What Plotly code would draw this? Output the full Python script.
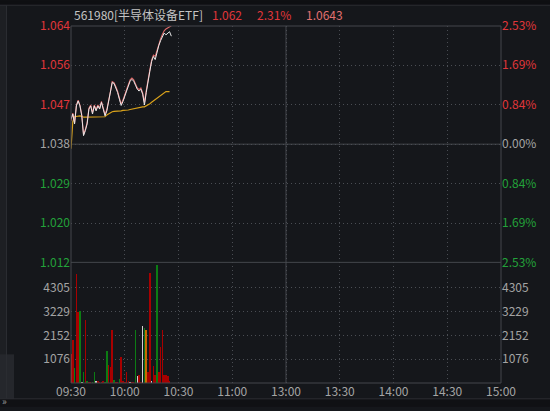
import plotly.graph_objects as go

# ---------------- data ----------------
prev_close = 1.038
header_code = "561980[半导体设备ETF]"
header_price = "1.062"
header_pct = "2.31%"
header_iopv = "1.0643"

time_ticks = [0, 30, 60, 90, 120, 150, 180, 210, 240]
time_labels = ["09:30", "10:00", "10:30", "11:00", "13:00", "13:30", "14:00", "14:30", "15:00"]

pct_steps = [-2.53, -1.69, -0.84, 0.0, 0.84, 1.69, 2.53]
price_labels = ["1.012", "1.020", "1.029", "1.038", "1.047", "1.056", "1.064"]
pct_labels = ["2.53%", "1.69%", "0.84%", "0.00%", "0.84%", "1.69%", "2.53%"]

vol_ticks = [1076, 2152, 3229, 4305]
vol_labels = ["1076", "2152", "3229", "4305"]
vol_max = 5460

minutes = list(range(57))
price = [1.0436, 1.0447, 1.0425, 1.0465, 1.0476, 1.0465, 1.0443, 1.0399, 1.0410, 1.0425,
         1.0458, 1.0465, 1.0447, 1.0465, 1.0454, 1.0465, 1.0458, 1.0473, 1.0458, 1.0443,
         1.0454, 1.0473, 1.0495, 1.0517, 1.0515, 1.0506, 1.0495, 1.0480, 1.0466, 1.0475,
         1.0489, 1.0498, 1.0509, 1.0520, 1.0524, 1.0520, 1.0511, 1.0502, 1.0498, 1.0502,
         1.0491, 1.0467, 1.0495, 1.0524, 1.0542, 1.0564, 1.0575, 1.0568, 1.0586, 1.0599,
         1.0610, 1.0619, 1.0627, 1.0623, 1.0627, 1.0630, 1.0620]
iopv = [1.0432, 1.0449, 1.0428, 1.0467, 1.0478, 1.0467, 1.0446, 1.0402, 1.0413, 1.0428,
        1.0460, 1.0467, 1.0450, 1.0467, 1.0457, 1.0467, 1.0460, 1.0475, 1.0460, 1.0446,
        1.0457, 1.0475, 1.0497, 1.0519, 1.0517, 1.0508, 1.0498, 1.0483, 1.0469, 1.0478,
        1.0492, 1.0501, 1.0512, 1.0523, 1.0527, 1.0523, 1.0514, 1.0505, 1.0501, 1.0505,
        1.0494, 1.0473, 1.0499, 1.0527, 1.0545, 1.0567, 1.0578, 1.0575, 1.0590, 1.0603,
        1.0614, 1.0624, 1.0632, 1.0636, 1.0639, 1.0641, 1.0643]
avg_price = [1.0370, 1.0430, 1.0441, 1.0442, 1.0443, 1.0443, 1.0442, 1.0440, 1.0440, 1.0440,
             1.0441, 1.0441, 1.0441, 1.0441, 1.0441, 1.0441, 1.0441, 1.0441, 1.0441, 1.0441,
             1.0445, 1.0448, 1.0450, 1.0452, 1.0453, 1.0453, 1.0454, 1.0454, 1.0454, 1.0455,
             1.0455, 1.0456, 1.0456, 1.0457, 1.0458, 1.0458, 1.0459, 1.0460, 1.0461, 1.0462,
             1.0463, 1.0463, 1.0465, 1.0467, 1.0470, 1.0473, 1.0476, 1.0478, 1.0482, 1.0486,
             1.0489, 1.0492, 1.0495, 1.0497, 1.0497, 1.0497]
volume = [1300, 1960, 660, 4920, 3200, 3270, 60, 490, 2860, 80,
          30, 40, 60, 510, 70, 80, 60, 40, 70, 40,
          1450, 800, 730, 2400, 130, 50, 60, 200, 1180, 100,
          40, 510, 80, 60, 40, 50, 2380, 310, 380, 60,
          2560, 2500, 2380, 510, 4990, 80, 760, 360, 5340, 510,
          1630, 2400, 360, 340, 320, 100]
vol_kind = ["b", "r", "g", "r", "r", "g", "w", "g", "r", "g",
            "r", "r", "g", "g", "w", "r", "r", "r", "r", "g",
            "g", "r", "r", "r", "g", "r", "r", "g", "r", "r",
            "r", "r", "r", "w", "r", "r", "g", "w", "r", "r",
            "w", "g", "o", "r", "r", "w", "r", "r", "g", "r",
            "r", "r", "r", "r", "r", "r"]

# ---------------- styles ----------------
BG = "#15171b"
RED = "#e0363a"
GREEN = "#23a23a"
GRAY = "#a4a4a4"
LINE = "#44474c"
DOT = "#4a4d53"
kind_color = {"r": "#a80000", "b": "#e81010", "g": "#0c7c14", "w": "#d0d0d0", "o": "#c86a00"}
FONT = "Noto Sans CJK SC"

W, H = 550, 411
L, R, T, B = 71, 49, 26, 24
PW, PH = W - L - R, H - T - B
split = 122 / PH  # volume panel fraction


def px(xp):
    return (xp - L) / PW


def py(yp):
    return (H - B - yp) / PH


lo = prev_close * (1 - 2.53 / 100)
hi = prev_close * (1 + 2.53 / 100)
price_ticks = [prev_close * (1 + s / 100) for s in pct_steps]


def colored(lbls, steps):
    out = []
    for t, s in zip(lbls, steps):
        c = RED if s > 0 else (GREEN if s < 0 else GRAY)
        out.append(f'<span style="color:{c}">{t}</span>')
    return out


fig = go.Figure()

fig.add_trace(go.Bar(x=minutes[:len(volume)], y=volume, xaxis="x2", yaxis="y3",
                     marker=dict(color=[kind_color[k] for k in vol_kind], line=dict(width=0)),
                     width=0.85, showlegend=False, hoverinfo="skip"))
fig.add_trace(go.Scatter(x=minutes[:len(avg_price)], y=avg_price, mode="lines",
                         line=dict(color="#d9a21b", width=1.2), showlegend=False, xaxis="x", yaxis="y"))
fig.add_trace(go.Scatter(x=minutes, y=iopv, mode="lines",
                         line=dict(color="#e06a6a", width=1.1), showlegend=False, xaxis="x", yaxis="y"))
fig.add_trace(go.Scatter(x=minutes, y=price, mode="lines",
                         line=dict(color="#e8e8e8", width=1.0), showlegend=False, xaxis="x", yaxis="y"))
fig.add_trace(go.Scatter(x=[None], y=[None], xaxis="x", yaxis="y2", showlegend=False))
fig.add_trace(go.Scatter(x=[None], y=[None], xaxis="x2", yaxis="y4", showlegend=False))

tickfont = dict(family=FONT, size=12, color=GRAY)
xgrid = dict(showgrid=True, gridcolor=DOT, griddash="1px,3px", gridwidth=1, zeroline=False,
             range=[0, 240], tickvals=time_ticks, showline=False, ticks="")

fig.update_layout(
    width=W, height=H, paper_bgcolor=BG, plot_bgcolor=BG,
    margin=dict(l=L, r=R, t=T, b=B), showlegend=False, bargap=0, hovermode=False,
    xaxis=dict(**xgrid, anchor="y", showticklabels=False, domain=[0, 1]),
    xaxis2=dict(**xgrid, anchor="y3", matches="x", showticklabels=True, ticktext=time_labels,
                tickfont=tickfont, domain=[0, 1]),
    yaxis=dict(domain=[split, 1], range=[lo - 1e-7, hi + 1e-7], tickvals=price_ticks,
               ticktext=colored(price_labels, pct_steps), tickfont=tickfont,
               showgrid=True, gridcolor=DOT, griddash="1px,3px", zeroline=False, ticks="",
               anchor="x"),
    yaxis2=dict(overlaying="y", side="right", range=[-2.53 - 1e-5, 2.53 + 1e-5], tickvals=pct_steps,
                ticktext=colored(pct_labels, pct_steps), tickfont=tickfont, showgrid=False,
                zeroline=False, ticks="", anchor="x"),
    yaxis3=dict(domain=[0, split], range=[0, vol_max], tickvals=vol_ticks, ticktext=vol_labels,
                tickfont=tickfont, showgrid=True, gridcolor=DOT, griddash="1px,3px",
                zeroline=False, ticks="", anchor="x2"),
    yaxis4=dict(overlaying="y3", side="right", range=[0, vol_max], tickvals=vol_ticks,
                ticktext=vol_labels, tickfont=tickfont, showgrid=False, zeroline=False,
                ticks="", anchor="x2"),
)

shapes = []
shapes.append(dict(type="rect", xref="paper", yref="paper", x0=0, x1=1, y0=0, y1=1,
                   line=dict(color=LINE, width=1), fillcolor="rgba(0,0,0,0)", layer="above"))
shapes.append(dict(type="line", xref="paper", yref="paper", x0=0, x1=1, y0=split, y1=split,
                   line=dict(color=LINE, width=1)))
shapes.append(dict(type="line", xref="paper", yref="y", x0=0, x1=1, y0=prev_close, y1=prev_close,
                   line=dict(color=LINE, width=1), layer="below"))
shapes.append(dict(type="line", xref="x", yref="paper", x0=120, x1=120, y0=0, y1=1,
                   line=dict(color=LINE, width=1), layer="below"))
shapes.append(dict(type="rect", xref="paper", yref="paper", x0=px(0), x1=px(W), y0=py(0), y1=py(5),
                   fillcolor="#0e0f12", line=dict(width=0), layer="below"))
shapes.append(dict(type="line", xref="paper", yref="paper", x0=px(0), x1=px(W), y0=py(5), y1=py(5),
                   line=dict(color="#2c2e33", width=1)))
shapes.append(dict(type="rect", xref="paper", yref="paper", x0=px(0), x1=px(W), y0=py(403), y1=py(H),
                   fillcolor="#101114", line=dict(width=0), layer="below"))
shapes.append(dict(type="line", xref="paper", yref="paper", x0=px(0), x1=px(W), y0=py(403), y1=py(403),
                   line=dict(color="#2c2e33", width=1)))
shapes.append(dict(type="rect", xref="paper", yref="paper", x0=px(0), x1=px(6), y0=py(5), y1=py(403),
                   fillcolor="#1d1f23", line=dict(width=0), layer="below"))
shapes.append(dict(type="line", xref="paper", yref="paper", x0=px(6.5), x1=px(6.5), y0=py(5), y1=py(403),
                   line=dict(color="#2a2c31", width=1)))
shapes.append(dict(type="rect", xref="paper", yref="paper", x0=px(0), x1=px(14), y0=py(358), y1=py(403),
                   fillcolor="#25272c", line=dict(width=0), layer="below"))
fig.update_layout(shapes=shapes)

hy = py(14)
ann = [
    dict(text=header_code, x=px(72), color="#c4c4c4"),
    dict(text=header_price, x=px(210), color=RED),
    dict(text=header_pct, x=px(255), color=RED),
    dict(text=header_iopv, x=px(304), color="#e27070"),
]
annotations = [dict(xref="paper", yref="paper", x=a["x"], y=hy, text=a["text"], showarrow=False,
                    xanchor="left", yanchor="middle",
                    font=dict(family=FONT, size=12, color=a["color"])) for a in ann]
annotations.append(dict(xref="paper", yref="paper", x=px(4), y=py(405), text="»", showarrow=False,
                        xanchor="center", yanchor="middle", font=dict(family=FONT, size=10, color="#9a9a9a")))
fig.update_layout(annotations=annotations)

fig.write_html("out.html", config={"displayModeBar": False, "staticPlot": True},
               post_script="document.body.style.margin='0';document.body.style.background='%s';" % BG)
